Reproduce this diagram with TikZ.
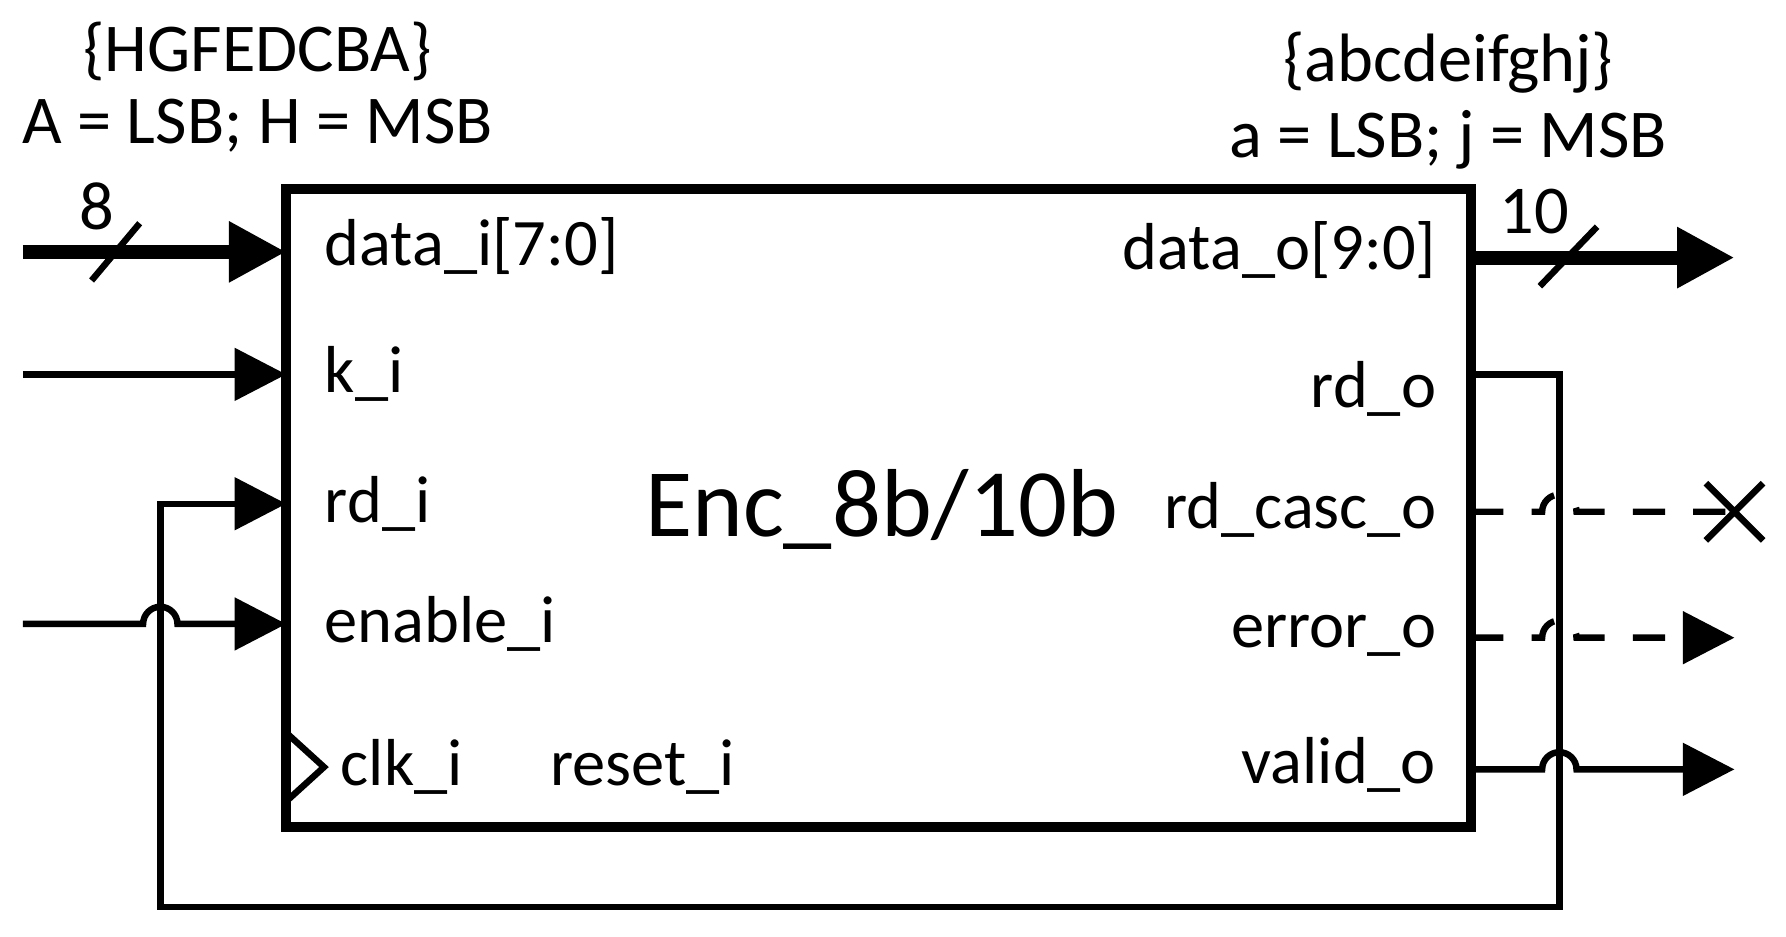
\documentclass[tikz,border=0pt]{standalone}
\usepackage{fontspec}
\setmainfont{Carlito}
\usetikzlibrary{arrows.meta,fit}
\tikzset{
  sig/.style={line width=1.6pt, -{Triangle[length=4.5mm,width=4.5mm]}},
  bus/.style={line width=3.5pt, -{Triangle[length=5mm,width=5mm]}},
  wire/.style={line width=1.6pt},
  dsh/.style={dash pattern=on 8pt off 7pt},
  port/.style={font=\fontsize{16.5}{18}\selectfont, inner sep=0pt},
  note/.style={font=\fontsize{17}{19}\selectfont, inner sep=0pt},
}
\begin{document}
\begin{tikzpicture}[x=0.01cm,y=0.01cm]
  \useasboundingbox (0,0) rectangle (1560,-818);

  % block
  \coordinate (nw) at (250,-165);
  \coordinate (se) at (1285,-722);
  \node[draw, line width=2.5pt, inner sep=0pt, fit={(nw) (se)}] (enc) {};
  \node[font=\fontsize{24}{26}\selectfont] (name) at (770,-445) {Enc\_8b/10b};

  % inputs
  \coordinate (din) at (20,-220);
  \coordinate (kin) at (20,-327);
  \coordinate (enin) at (20,-545);
  \draw[bus] (din) -- (250,-220);
  \draw[wire] (80,-245) -- (122,-195);
  \node[note] (w8) at (85,-180) {8};
  \draw[sig] (kin) -- (250,-327);
  \draw[sig] (enin) -- (125,-545) arc[start angle=180,end angle=0,radius=0.15cm] -- (250,-545);

  % feedback rd_o -> rd_i
  \draw[sig] (1285,-327) -- (1362,-327) -- (1362,-792) -- (140,-792) -- (140,-440) -- (250,-440);

  % clock
  \draw[wire] (250,-640) -- (283,-670) -- (250,-700);

  % outputs
  \draw[bus] (1285,-225) -- (1515,-225);
  \draw[wire] (1345,-250) -- (1395,-198);
  \node[note] (w10) at (1340,-185) {10};
  \draw[wire, dsh] (1285,-447) -- (1347,-447) arc[start angle=180,end angle=0,radius=0.15cm] -- (1515,-447);
  \draw[wire] (1490,-422) -- (1540,-472) (1490,-472) -- (1540,-422);
  \draw[sig, dsh] (1285,-557) -- (1347,-557) arc[start angle=180,end angle=0,radius=0.15cm] -- (1515,-557);
  \draw[sig] (1285,-672) -- (1347,-672) arc[start angle=180,end angle=0,radius=0.15cm] -- (1515,-672);

  % port labels
  \node[port, anchor=west] (p1) at (283,-215) {data\_i[7:0]};
  \node[port, anchor=west] (p2) at (283,-327) {k\_i};
  \node[port, anchor=west] (p3) at (283,-440) {rd\_i};
  \node[port, anchor=west] (p4) at (283,-545) {enable\_i};
  \node[port, anchor=west] (p5) at (297,-670) {clk\_i};
  \node[port, anchor=west] (p6) at (480,-670) {reset\_i};
  \node[port, anchor=east] (q1) at (1255,-218) {data\_o[9:0]};
  \node[port, anchor=east] (q2) at (1255,-340) {rd\_o};
  \node[port, anchor=east] (q3) at (1255,-445) {rd\_casc\_o};
  \node[port, anchor=east] (q4) at (1255,-555) {error\_o};
  \node[port, anchor=east] (q5) at (1255,-668) {valid\_o};

  % bit order
  \node[note] (t1) at (225,-45) {\{HGFEDCBA\}};
  \node[note] (t2) at (225,-110) {A = LSB; H = MSB};
  \node[note] (t3) at (1265,-55) {\{abcdeifghj\}};
  \node[note] (t4) at (1265,-122) {a = LSB; j = MSB};
\end{tikzpicture}
\end{document}
